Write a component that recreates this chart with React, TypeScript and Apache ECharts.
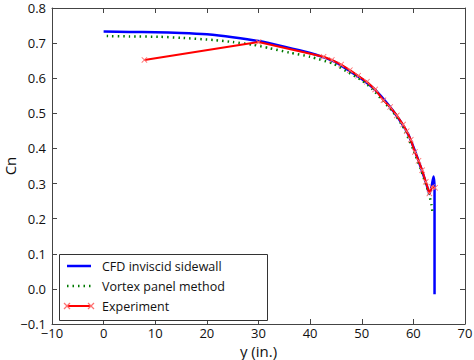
import React, { useEffect, useRef } from "react";
import * as echarts from "echarts";

const cfdX = [0, 5, 10, 15, 20, 25, 30, 35, 40, 42.5, 45, 47.5, 50, 52.5, 55, 57, 59, 60.5, 61.7, 62.6, 63.1, 63.5, 63.9, 64.1, 64.1];
const cfdY = [0.733, 0.732, 0.731, 0.729, 0.725, 0.717, 0.706, 0.69, 0.672, 0.66, 0.645, 0.622, 0.598, 0.568, 0.527, 0.488, 0.44, 0.385, 0.335, 0.295, 0.27, 0.29, 0.32, 0.28, -0.015];

const vpmX = [0.6, 5, 10.9, 15, 21.3, 25, 29, 32, 36, 40, 44.5, 47, 50, 52, 54, 56, 58, 60, 61.5, 62.5, 63.2, 63.5, 63.7];
const vpmY = [0.72, 0.719, 0.718, 0.715, 0.709, 0.703, 0.695, 0.686, 0.673, 0.661, 0.641, 0.62, 0.594, 0.57, 0.537, 0.505, 0.462, 0.396, 0.338, 0.295, 0.26, 0.24, 0.218];

const expX = [7.9, 30, 42.6, 44.2, 46, 47.7, 49.3, 51, 52.6, 54.2, 55.5, 56.8, 58, 58.7, 59.5, 60.3, 61, 61.7, 62.4, 63.1, 63.6, 64.2];
const expY = [0.652, 0.703, 0.661, 0.652, 0.639, 0.623, 0.607, 0.59, 0.568, 0.537, 0.518, 0.494, 0.468, 0.449, 0.425, 0.39, 0.365, 0.338, 0.305, 0.272, 0.29, 0.288];

const seriesNames = ["CFD inviscid sidewall", "Vortex panel method", "Experiment"];

const zip = (xs: number[], ys: number[]) => xs.map((x, i) => [x, ys[i]]);
const fmtMinus = (s: string) => s.replace("-", "\u2212");

const CROSS = "path://M0,1L1,0L5,4L9,0L10,1L6,5L10,9L9,10L5,6L1,10L0,9L4,5Z";
const FONT = "Open Sans";
const BLUE = "#0000ff";
const GREEN = "#007a00";
const RED = "#ff0000";
const RED_MARK = "#ff7070";

function crossShape(cx: number, cy: number) {
  return [
    { type: "line", z: 110, shape: { x1: cx - 3, y1: cy - 3, x2: cx + 3, y2: cy + 3 }, style: { stroke: RED_MARK, lineWidth: 1.2 } },
    { type: "line", z: 110, shape: { x1: cx - 3, y1: cy + 3, x2: cx + 3, y2: cy - 3 }, style: { stroke: RED_MARK, lineWidth: 1.2 } },
  ];
}

export default function App() {
  const ref = useRef<HTMLDivElement>(null);
  useEffect(() => {
    if (!ref.current) return;
    const chart = echarts.init(ref.current, null, { renderer: "svg" });
    const axisLine = { show: true, onZero: false, lineStyle: { color: "#444", width: 1 } };
    const tick = { show: true, inside: true, length: 5, lineStyle: { color: "#444" } };
    const lx1 = 67, lx2 = 91, tx = 102;
    const rows = [266, 286, 306];
    chart.setOption({
      animation: false,
      textStyle: { fontFamily: FONT },
      grid: { left: 52, right: 9, top: 8, bottom: 36, containLabel: false, outerBoundsMode: "none" },
      graphic: [
        { type: "rect", z: 100, shape: { x: 59.5, y: 254.5, width: 208, height: 66 }, style: { fill: "#fff", stroke: "#333", lineWidth: 1 } },
        { type: "line", z: 105, shape: { x1: lx1, y1: rows[0], x2: lx2, y2: rows[0] }, style: { stroke: BLUE, lineWidth: 2.5 } },
        { type: "line", z: 105, shape: { x1: lx1, y1: rows[1], x2: lx2, y2: rows[1] }, style: { stroke: GREEN, lineWidth: 2.5, lineDash: [1.5, 4] } },
        { type: "line", z: 105, shape: { x1: lx1, y1: rows[2], x2: lx2, y2: rows[2] }, style: { stroke: RED, lineWidth: 2 } },
        ...crossShape(lx1, rows[2]),
        ...crossShape(lx2, rows[2]),
        ...seriesNames.map((n, i) => ({
          type: "text",
          z: 105,
          style: { x: tx, y: rows[i], text: n, fill: "#111", font: `12.5px '${FONT}'`, textVerticalAlign: "middle", verticalAlign: "middle" },
        })),
      ],
      xAxis: [
        {
          type: "value",
          min: -10,
          max: 70,
          interval: 10,
          name: "y (in.)",
          nameLocation: "middle",
          nameGap: 19,
          nameMoveOverlap: false,
          nameTextStyle: { fontFamily: FONT, fontSize: 15, color: "#111" },
          axisLine,
          axisTick: tick,
          splitLine: { show: false },
          axisLabel: { fontFamily: FONT, fontSize: 13, color: "#111", margin: 2, formatter: (v: number) => fmtMinus(String(v)) },
        },
        {
          type: "value",
          position: "top",
          min: -10,
          max: 70,
          interval: 10,
          axisLine,
          axisTick: tick,
          splitLine: { show: false },
          axisLabel: { show: false },
        },
      ],
      yAxis: [
        {
          type: "value",
          min: -0.1,
          max: 0.8,
          interval: 0.1,
          name: "Cn",
          nameLocation: "middle",
          nameGap: 35,
          nameMoveOverlap: false,
          nameTextStyle: { fontFamily: FONT, fontSize: 15, color: "#111" },
          axisLine,
          axisTick: tick,
          splitLine: { show: false },
          axisLabel: { fontFamily: FONT, fontSize: 13, color: "#111", margin: 6, formatter: (v: number) => fmtMinus(v.toFixed(1)) },
        },
        {
          type: "value",
          position: "right",
          min: -0.1,
          max: 0.8,
          interval: 0.1,
          axisLine,
          axisTick: tick,
          splitLine: { show: false },
          axisLabel: { show: false },
        },
      ],
      series: [
        {
          name: seriesNames[0],
          type: "line",
          data: zip(cfdX, cfdY),
          symbol: "none",
          smooth: 0.2,
          lineStyle: { color: BLUE, width: 2.5 },
          itemStyle: { color: BLUE },
        },
        {
          name: seriesNames[1],
          type: "line",
          data: zip(vpmX, vpmY),
          symbol: "none",
          smooth: 0.2,
          lineStyle: { color: GREEN, width: 2.5, type: [1.5, 4] },
          itemStyle: { color: GREEN },
        },
        {
          name: seriesNames[2],
          type: "line",
          data: zip(expX, expY),
          symbol: CROSS,
          symbolSize: 6,
          showAllSymbol: true,
          lineStyle: { color: RED, width: 2 },
          itemStyle: { color: RED_MARK },
        },
      ],
    });
    return () => chart.dispose();
  }, []);
  return <div ref={ref} style={{ position: "absolute", left: 0, top: 0, width: 474, height: 360 }} />;
}
